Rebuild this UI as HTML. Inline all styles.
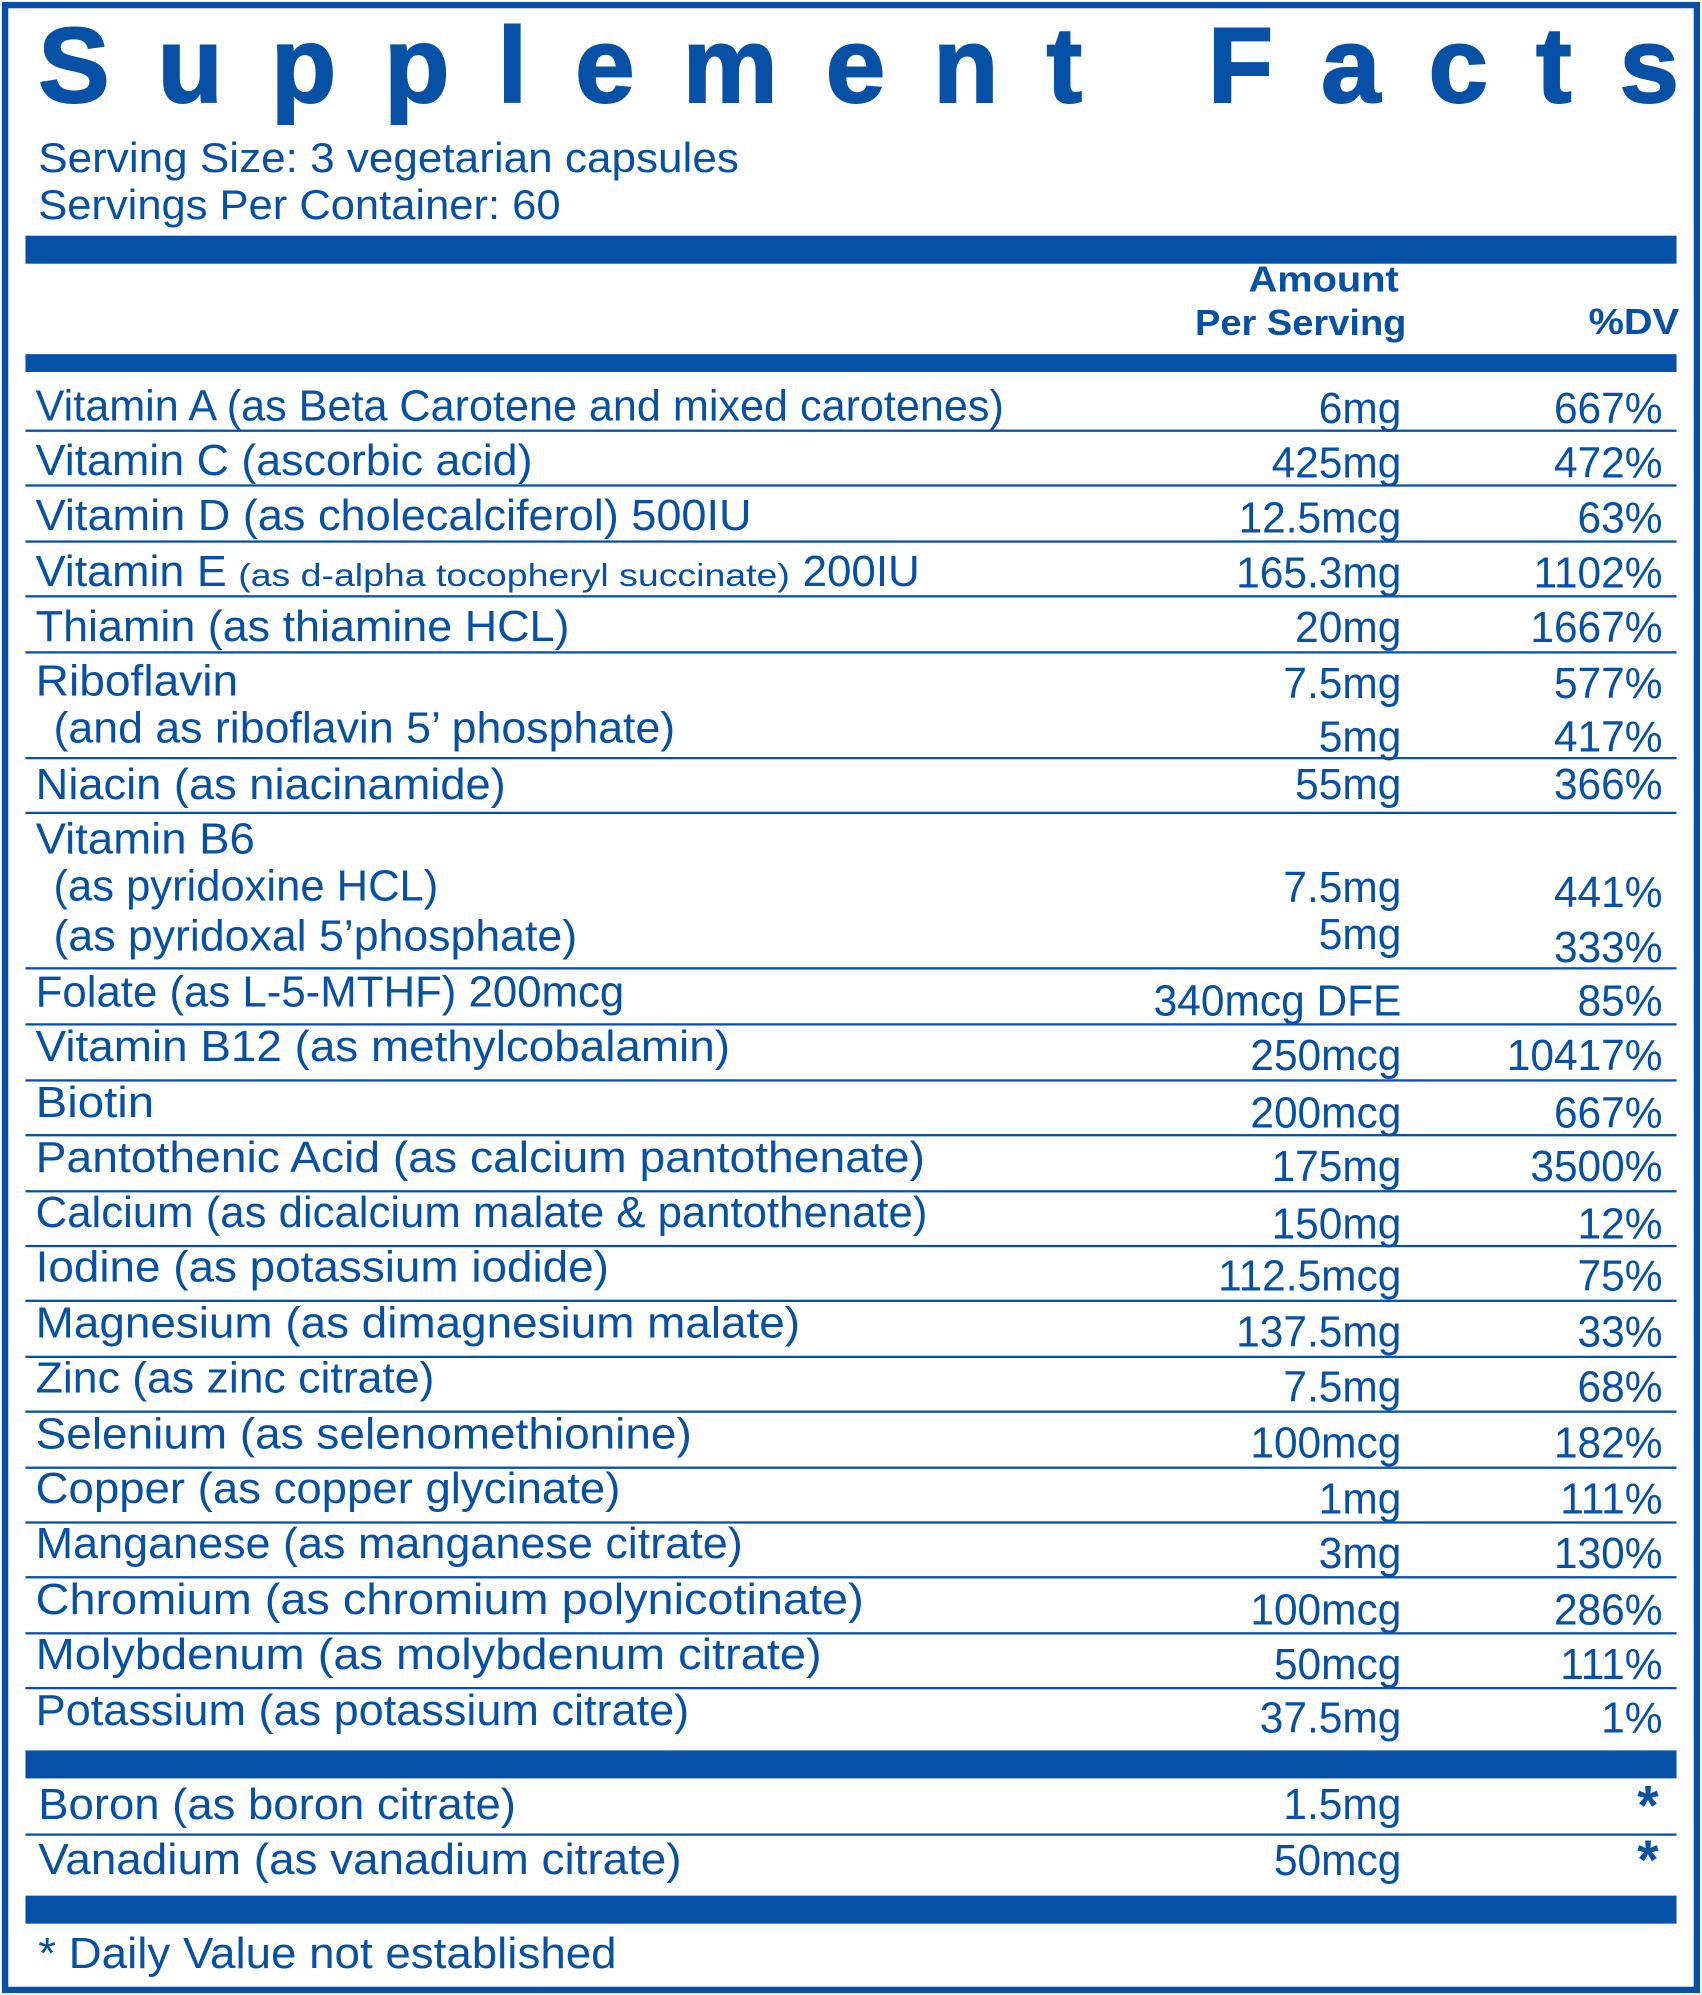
<!DOCTYPE html>
<html><head><meta charset="utf-8"><style>
html,body{margin:0;padding:0;background:#fff;}
svg{display:block;}
text{font-family:"Liberation Sans",sans-serif;fill:#0650a6;}
</style></head><body>
<svg id="s" width="1702" height="1995" viewBox="0 0 1336 1566" preserveAspectRatio="none" xmlns="http://www.w3.org/2000/svg">
<rect x="4" y="4" width="1328" height="1558" fill="none" stroke="#0650a6" stroke-width="5"/>
<text x="30" y="80" font-size="84" font-weight="bold" textLength="1288" lengthAdjust="spacing" stroke="#0650a6" stroke-width="1.5">Supplement Facts</text>
<text x="30" y="135" font-size="33" textLength="550" lengthAdjust="spacingAndGlyphs">Serving Size:  3 vegetarian capsules</text>
<text x="30" y="172" font-size="33" textLength="410" lengthAdjust="spacingAndGlyphs">Servings Per Container: 60</text>
<rect x="20" y="185" width="1296" height="22" fill="#0650a6"/>
<text x="1098" y="229" font-size="28" font-weight="bold" text-anchor="end" textLength="118" lengthAdjust="spacingAndGlyphs">Amount</text>
<text x="938" y="263" font-size="28" font-weight="bold" textLength="166" lengthAdjust="spacingAndGlyphs">Per Serving</text>
<text x="1247" y="262" font-size="28" font-weight="bold" textLength="71" lengthAdjust="spacingAndGlyphs">%DV</text>
<rect x="20" y="278" width="1296" height="14" fill="#0650a6"/>
<rect x="20" y="1374" width="1296" height="22" fill="#0650a6"/>
<rect x="20" y="1488" width="1296" height="22" fill="#0650a6"/>
<text x="30" y="1545" font-size="34" textLength="454" lengthAdjust="spacingAndGlyphs">* Daily Value not established</text>
<g id="rows"></g>
</svg>
<script>
const NS="http://www.w3.org/2000/svg";
const g=document.getElementById('rows');
const names=[
["Vitamin A (as Beta Carotene and mixed carotenes)",28,788,330],
["Vitamin C (ascorbic acid)",28,418,373],
["Vitamin D (as cholecalciferol) 500IU",28,590,416],
["Thiamin (as thiamine HCL)",28,447,503],
["Riboflavin",28,187,546],
["(and as riboflavin 5’ phosphate)",42,530,583],
["Niacin (as niacinamide)",28,397,627],
["Vitamin B6",28,200,670],
["(as pyridoxine HCL)",42,344,707],
["(as pyridoxal 5’phosphate)",42,453,746],
["Folate (as L-5-MTHF) 200mcg",28,490,790],
["Vitamin B12 (as methylcobalamin)",28,573,833],
["Biotin",28,121,877],
["Pantothenic Acid (as calcium pantothenate)",28,726,920],
["Calcium (as dicalcium malate & pantothenate)",28,728,963],
["Iodine (as potassium iodide)",28,478,1006],
["Magnesium (as dimagnesium malate)",28,628,1050],
["Zinc (as zinc citrate)",28,341,1093],
["Selenium (as selenomethionine)",28,543,1137],
["Copper (as copper glycinate)",28,487,1180],
["Manganese (as manganese citrate)",28,583,1223],
["Chromium (as chromium polynicotinate)",28,678,1267],
["Molybdenum (as molybdenum citrate)",28,645,1310],
["Potassium (as potassium citrate)",28,541,1354],
["Boron (as boron citrate)",30,405,1428],
["Vanadium (as vanadium citrate)",30,535,1471]
];
const amounts=[["6mg",332],["425mg",375],["12.5mcg",418],["165.3mg",461],["20mg",504],["7.5mg",548],["5mg",590],["55mg",627],["7.5mg",708],["5mg",745],["340mcg DFE",797],["250mcg",840],["200mcg",885],["175mg",927],["150mg",972],["112.5mcg",1013],["137.5mg",1057],["7.5mg",1100],["100mcg",1144],["1mg",1188],["3mg",1231],["100mcg",1275],["50mcg",1318],["37.5mg",1360],["1.5mg",1428],["50mcg",1472]];
const dvs=[["667%",332],["472%",375],["63%",418],["1102%",461],["1667%",504],["577%",548],["417%",590],["366%",627],["441%",712],["333%",755],["85%",797],["10417%",840],["667%",885],["3500%",927],["12%",972],["75%",1013],["33%",1057],["68%",1100],["182%",1144],["111%",1188],["130%",1231],["286%",1275],["111%",1318],["1%",1360],["*",1432],["*",1475]];
const lines=[338,381,425,468,512,595,638,760,804,848,891,935,978,1021,1065,1108,1152,1195,1238,1282,1325,1440];
function t(str,x,y,size,anchor){const e=document.createElementNS(NS,'text');e.setAttribute('x',x);e.setAttribute('y',y);e.setAttribute('font-size',size);if(anchor)e.setAttribute('text-anchor',anchor);e.textContent=str;g.appendChild(e);return e;}
names.forEach(n=>{const e=t(n[0],n[1],n[3],34);
e.setAttribute('textLength',n[2]-n[1]);e.setAttribute('lengthAdjust','spacingAndGlyphs');

});
[["Vitamin E",28,178,34],["(as d-alpha tocopheryl succinate)",187,620,25],["200IU",630,722,34]].forEach(p=>{const e=t(p[0],p[1],460,p[3]);
e.setAttribute('textLength',p[2]-p[1]);e.setAttribute('lengthAdjust','spacingAndGlyphs');

});
function scaled(str,x,y,size){const e=document.createElementNS(NS,'text');e.setAttribute('x',0);e.setAttribute('y',0);e.setAttribute('font-size',size);e.setAttribute('text-anchor','end');e.setAttribute('transform','translate('+x+','+y+') scale(0.98,1)');e.textContent=str;g.appendChild(e);return e;}
amounts.forEach(a=>{const e=scaled(a[0],1100,a[1],34);

});
dvs.forEach(d=>{const star=d[0]=='*';const e=scaled(d[0],star?1302:1305,d[1],star?44:34);
if(star)e.setAttribute('font-weight','bold');

});
lines.forEach(y=>{const r=document.createElementNS(NS,'rect');r.setAttribute('x',20);r.setAttribute('y',y-0.8);r.setAttribute('width',1296);r.setAttribute('height',1.8);r.setAttribute('fill','#0650a6');


g.appendChild(r);});
</script>
</body></html>
